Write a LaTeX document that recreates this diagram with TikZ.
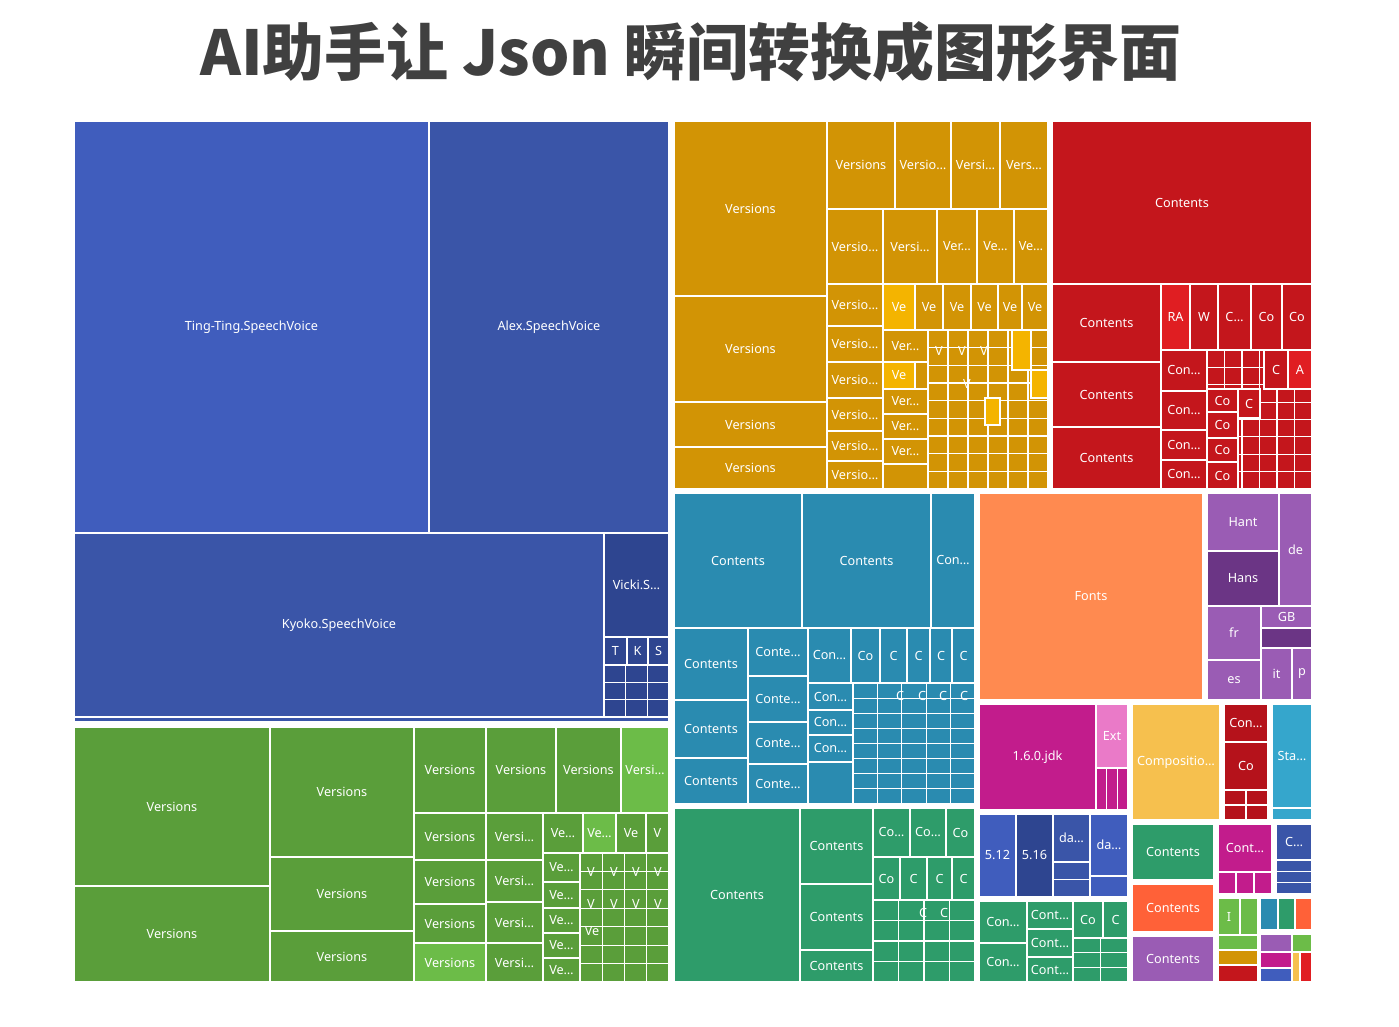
\documentclass[tikz,border=0pt]{standalone}
\usepackage{fontspec}
\setmainfont{Noto Sans}
\newfontfamily\cjk{Noto Sans CJK SC}
\definecolor{cblue}{HTML}{405DBD}
\definecolor{cblued}{HTML}{3A55A8}
\definecolor{cbluex}{HTML}{2E4590}
\definecolor{cgreen}{HTML}{5A9E3A}
\definecolor{cgreenl}{HTML}{6CBC48}
\definecolor{cgold}{HTML}{D29405}
\definecolor{cgoldl}{HTML}{F4B400}
\definecolor{cred}{HTML}{C4161C}
\definecolor{credl}{HTML}{E01E22}
\definecolor{cteal}{HTML}{2A8BB0}
\definecolor{csea}{HTML}{2E9C6A}
\definecolor{corange}{HTML}{FF8A50}
\definecolor{cpurple}{HTML}{9A5CB4}
\definecolor{cpurpled}{HTML}{6B3585}
\definecolor{cmag}{HTML}{C21C8C}
\definecolor{cmagl}{HTML}{EA7AC8}
\definecolor{cyell}{HTML}{F6C04E}
\definecolor{cdred}{HTML}{B5121B}
\definecolor{clblue}{HTML}{35A6CC}
\definecolor{ctitle}{HTML}{404040}
\tikzset{
  lbl/.style={text=white,font=\fontsize{3.6}{4.5}\selectfont,inner sep=0pt},
  cellbox/.style={draw=white,line width=0.4pt}
}
% cell: x1 y1 x2 y2 colour label
\newcommand\tcell[6]{%
  \fill[#5,cellbox] (#1,#2) rectangle (#3,#4);
  \node[lbl] at ({(#1+#3)/2},{(#2+#4)/2}) {#6};}
% grid of small cells: x1 y1 x2 y2 nx ny colour
\newcommand\tgrid[7]{%
  \fill[#7,cellbox] (#1,#2) rectangle (#3,#4);
  \foreach \i in {1,...,#5}{\draw[white,line width=0.3pt] ({#1+\i*(#3-#1)/#5},#2) -- ({#1+\i*(#3-#1)/#5},#4);}
  \foreach \j in {1,...,#6}{\draw[white,line width=0.3pt] (#1,{#2+\j*(#4-#2)/#6}) -- (#3,{#2+\j*(#4-#2)/#6});}}
\begin{document}
\begin{tikzpicture}[x=0.01cm,y=-0.01cm]
\useasboundingbox (0,0) rectangle (1399,1027);
\node[text=ctitle,font=\cjk\bfseries\fontsize{17.6}{21}\selectfont] (title) at (691,52) {AI助手让 Json 瞬间转换成图形界面};

% blue
\tcell{74}{121}{429}{533}{cblue}{Ting-Ting.SpeechVoice}
\tcell{429}{121}{669}{533}{cblued}{Alex.SpeechVoice}
\tcell{74}{533}{604}{717}{cblued}{Kyoko.SpeechVoice}
\tcell{74}{717}{669}{722}{cblued}{}
\tcell{604}{533}{669}{637}{cbluex}{Vicki.S…}
\foreach \x/\w/\t in {604/627/T,627/648/K,648/669/S}{\tcell{\x}{637}{\w}{665}{cbluex}{\t}}
\tgrid{604}{665}{669}{717}{3}{3}{cbluex}

% green
\tcell{74}{727}{270}{886}{cgreen}{Versions}
\tcell{74}{886}{270}{982}{cgreen}{Versions}
\tcell{270}{727}{414}{857}{cgreen}{Versions}
\tcell{270}{857}{414}{931}{cgreen}{Versions}
\tcell{270}{931}{414}{982}{cgreen}{Versions}
\tcell{414}{727}{486}{813}{cgreen}{Versions}
\tcell{486}{727}{556}{813}{cgreen}{Versions}
\tcell{556}{727}{621}{813}{cgreen}{Versions}
\tcell{621}{727}{669}{813}{cgreenl}{Versi…}
\tcell{414}{813}{486}{860}{cgreen}{Versions}
\tcell{414}{860}{486}{904}{cgreen}{Versions}
\tcell{414}{904}{486}{943}{cgreen}{Versions}
\tcell{414}{943}{486}{982}{cgreenl}{Versions}
\tcell{486}{813}{543}{860}{cgreen}{Versi…}
\tcell{486}{860}{543}{902}{cgreen}{Versi…}
\tcell{486}{902}{543}{943}{cgreen}{Versi…}
\tcell{486}{943}{543}{982}{cgreen}{Versi…}
\tcell{543}{813}{583}{853}{cgreen}{Ve…}
\tcell{583}{813}{616}{853}{cgreenl}{Ve…}
\tcell{616}{813}{646}{853}{cgreen}{Ve}
\tcell{646}{813}{669}{853}{cgreen}{V}
\foreach \y/\z in {853/882,882/908,908/933,933/958,958/982}{\tcell{543}{\y}{580}{\z}{cgreen}{Ve…}}
\tgrid{580}{853}{669}{982}{4}{7}{cgreen}
\foreach \x in {591,614,636,658}{\node[lbl] at (\x,872) {V}; \node[lbl] at (\x,904) {V};}
\node[lbl] at (592,931) {Ve};

% gold
\tcell{674}{121}{827}{296}{cgold}{Versions}
\tcell{674}{296}{827}{402}{cgold}{Versions}
\tcell{674}{402}{827}{447}{cgold}{Versions}
\tcell{674}{447}{827}{489}{cgold}{Versions}
\foreach \x/\w/\t in {827/895/Versions,895/951/Versio…,951/1000/Versi…,1000/1048/Vers…}{\tcell{\x}{121}{\w}{209}{cgold}{\t}}
\foreach \x/\w/\t in {827/883/Versio…,883/937/Versi…,937/977/Ver…,977/1014/Ve…,1014/1048/Ve…}{\tcell{\x}{209}{\w}{284}{cgold}{\t}}
\foreach \y/\z in {284/326,326/362,362/398,398/431,431/461,461/489}{\tcell{827}{\y}{883}{\z}{cgold}{Versio…}}
\tcell{883}{284}{915}{330}{cgoldl}{Ve}
\foreach \x/\w in {915/943,943/971,971/998,998/1022,1022/1048}{\tcell{\x}{284}{\w}{330}{cgold}{Ve}}
\tcell{883}{330}{928}{362}{cgold}{Ver…}
\tcell{883}{362}{915}{389}{cgoldl}{Ve}
\tcell{915}{362}{928}{389}{cgold}{}
\foreach \y/\z in {389/414,414/439,439/464}{\tcell{883}{\y}{928}{\z}{cgold}{Ver…}}
\tcell{883}{464}{928}{489}{cgold}{}
\tgrid{928}{330}{1048}{489}{6}{9}{cgold}
\tcell{1012}{330}{1031}{370}{cgoldl}{}
\tcell{1031}{370}{1048}{398}{cgoldl}{}
\tcell{985}{398}{1000}{425}{cgoldl}{}
\foreach \x in {939,962,984}{\node[lbl] at (\x,351) {V};}
\node[lbl] at (967,384) {V};

% red
\tcell{1052}{121}{1312}{284}{cred}{Contents}
\tcell{1052}{284}{1161}{362}{cred}{Contents}
\tcell{1052}{362}{1161}{427}{cred}{Contents}
\tcell{1052}{427}{1161}{489}{cred}{Contents}
\tcell{1161}{284}{1190}{350}{credl}{RA}
\foreach \x/\w/\t in {1190/1218/W,1218/1251/C…,1251/1282/Co,1282/1312/Co}{\tcell{\x}{284}{\w}{350}{cred}{\t}}
\foreach \y/\z in {350/391,391/430,430/460,460/489}{\tcell{1161}{\y}{1207}{\z}{cred}{Con…}}
\tgrid{1207}{350}{1312}{489}{6}{8}{cred}
\tcell{1264}{350}{1288}{389}{cred}{C}
\tcell{1288}{350}{1312}{389}{credl}{A}
\foreach \y/\z in {389/412,412/438,438/462,462/489}{\tcell{1207}{\y}{1238}{\z}{cred}{Co}}
\tcell{1238}{389}{1260}{418}{cred}{C}

% teal
\tcell{674}{493}{802}{628}{cteal}{Contents}
\tcell{802}{493}{931}{628}{cteal}{Contents}
\tcell{931}{493}{975}{628}{cteal}{Con…}
\tcell{674}{628}{748}{700}{cteal}{Contents}
\tcell{674}{700}{748}{758}{cteal}{Contents}
\tcell{674}{758}{748}{804}{cteal}{Contents}
\foreach \y/\z in {628/676,676/722,722/764,764/804}{\tcell{748}{\y}{808}{\z}{cteal}{Conte…}}
\tcell{808}{628}{851}{683}{cteal}{Con…}
\tcell{851}{628}{880}{683}{cteal}{Co}
\foreach \x/\w in {880/907,907/930,930/952,952/975}{\tcell{\x}{628}{\w}{683}{cteal}{C}}
\foreach \y/\z/\t in {683/710/Con…,710/735/Con…,735/762/Con…,762/804/}{\tcell{808}{\y}{853}{\z}{cteal}{\t}}
\tgrid{853}{683}{975}{804}{5}{8}{cteal}
\foreach \x in {900,922,943,964}{\node[lbl] at (\x,696) {C};}

% sea green
\tcell{674}{808}{800}{982}{csea}{Contents}
\tcell{800}{808}{873}{884}{csea}{Contents}
\tcell{800}{884}{873}{950}{csea}{Contents}
\tcell{800}{950}{873}{982}{csea}{Contents}
\tcell{873}{808}{910}{857}{csea}{Co…}
\tcell{910}{808}{946}{857}{csea}{Co…}
\tcell{946}{808}{975}{857}{csea}{Co}
\tcell{873}{857}{900}{900}{csea}{Co}
\foreach \x/\w in {900/927,927/952,952/975}{\tcell{\x}{857}{\w}{900}{csea}{C}}
\tgrid{873}{900}{975}{982}{4}{4}{csea}
\node[lbl] at (923,913) {C}; \node[lbl] at (944,913) {C};

% orange, purple
\tcell{979}{493}{1203}{700}{corange}{Fonts}
\tcell{1207}{493}{1279}{551}{cpurple}{Hant}
\tcell{1207}{551}{1279}{606}{cpurpled}{Hans}
\tcell{1279}{493}{1312}{606}{cpurple}{de}
\tcell{1207}{606}{1261}{660}{cpurple}{fr}
\tcell{1207}{660}{1261}{700}{cpurple}{es}
\tcell{1261}{606}{1312}{628}{cpurple}{GB}
\tcell{1261}{628}{1312}{648}{cpurpled}{}
\tcell{1261}{648}{1292}{700}{cpurple}{it}
\tcell{1292}{648}{1312}{700}{cpurple}{p}

% magenta etc.
\tcell{979}{704}{1096}{810}{cmag}{1.6.0.jdk}
\tcell{1096}{704}{1128}{768}{cmagl}{Ext}
\tgrid{1096}{768}{1128}{810}{3}{1}{cmag}
\tcell{1132}{704}{1220}{820}{cyell}{Compositio…}
\tcell{1224}{704}{1268}{742}{cdred}{Con…}
\tcell{1224}{742}{1268}{790}{cdred}{Co}
\tgrid{1224}{790}{1268}{820}{2}{2}{cdred}
\tcell{1272}{704}{1312}{808}{clblue}{Sta…}
\tcell{1272}{808}{1312}{820}{clblue}{}
\tcell{979}{814}{1016}{897}{cblue}{5.12}
\tcell{1016}{814}{1053}{897}{cbluex}{5.16}
\tcell{1053}{814}{1090}{862}{cblued}{da…}
\tgrid{1053}{862}{1090}{897}{1}{2}{cblued}
\tcell{1090}{814}{1128}{876}{cblue}{da…}
\tcell{1090}{876}{1128}{897}{cblue}{}
\tcell{979}{901}{1027}{943}{csea}{Con…}
\tcell{979}{943}{1027}{982}{csea}{Con…}
\foreach \y/\z in {901/929,929/957,957/982}{\tcell{1027}{\y}{1073}{\z}{csea}{Cont…}}
\tcell{1073}{901}{1103}{938}{csea}{Co}
\tcell{1103}{901}{1128}{938}{csea}{C}
\tgrid{1073}{938}{1128}{982}{2}{3}{csea}
\tcell{1132}{824}{1214}{880}{csea}{Contents}
\tcell{1132}{884}{1214}{932}{corange!70!red}{Contents}
\tcell{1132}{936}{1214}{982}{cpurple}{Contents}
\tcell{1218}{824}{1272}{872}{cmag}{Cont…}
\tgrid{1218}{872}{1272}{894}{3}{1}{cmag}
\tcell{1276}{824}{1312}{860}{cblued}{C…}
\tgrid{1276}{860}{1312}{894}{1}{3}{cblued}
\tcell{1218}{898}{1240}{935}{cgreenl}{I}
\tcell{1240}{898}{1258}{935}{cgreenl}{}
\tcell{1260}{898}{1278}{930}{cteal}{}
\tcell{1278}{898}{1295}{930}{csea}{}
\tcell{1295}{898}{1312}{930}{corange!70!red}{}
\tcell{1218}{935}{1258}{950}{cgreenl}{}
\tcell{1218}{950}{1258}{965}{cgold}{}
\tcell{1218}{965}{1258}{982}{cred}{}
\tcell{1260}{934}{1292}{952}{cpurple}{}
\tcell{1292}{934}{1312}{952}{cgreenl}{}
\tcell{1260}{952}{1292}{968}{cmag}{}
\tcell{1260}{968}{1292}{982}{cblue}{}
\tcell{1292}{952}{1300}{982}{cyell}{}
\tcell{1300}{952}{1312}{982}{credl}{}
\end{tikzpicture}
\end{document}
